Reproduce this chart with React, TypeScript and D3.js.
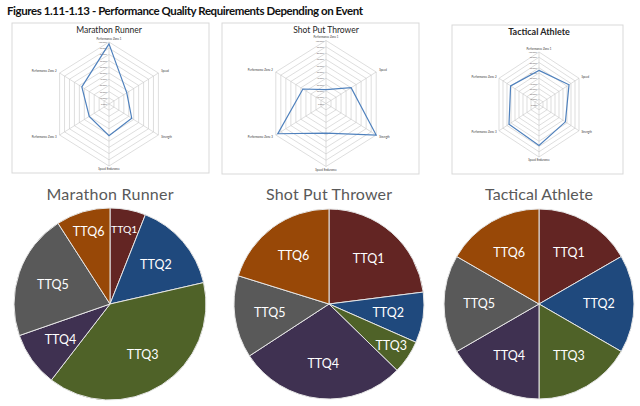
import React from 'react';
import * as d3 from 'd3';

// pie data (share of training time per quality)
const ttqLabels = ['TTQ1', 'TTQ2', 'TTQ3', 'TTQ4', 'TTQ5', 'TTQ6'];
const ttqColors = ['#632523', '#1F497D', '#4F6228', '#3F3151', '#595959', '#984807'];
const marathonPie = [6, 15.4, 39, 9.2, 21.2, 9.1];
const shotPutPie = [23, 8.6, 5.7, 28.5, 14, 20.2];
const tacticalPie = [1, 1, 1, 1, 1, 1];

// radar data (0..1)
const radarAxes = ['Performance Zone 1', 'Speed', 'Strength', 'Speed Endurance', 'Performance Zone 3', 'Performance Zone 2'];
const marathonRadar = [0.97, 0.36, 0.46, 0.51, 0.4, 0.55];
const shotPutRadar = [0.22, 0.5, 1.0, 0.47, 0.96, 0.46];
const tacticalRadar = [0.65, 0.75, 0.66, 0.78, 0.75, 0.71];
const radarTicks = ['0.00%', '10.00%', '20.00%', '30.00%', '40.00%', '50.00%', '60.00%', '70.00%', '80.00%', '90.00%', '100.00%'];

const figureTitle = 'Figures 1.11-1.13 - Performance Quality Requirements Depending on Event';
const eventNames = ['Marathon Runner', 'Shot Put Thrower', 'Tactical Athlete'];

const FONT = 'Lato, "Open Sans", sans-serif';

interface RadarProps {
  title: string;
  values: number[];
  box: { x: number; y: number; w: number; h: number };
  cx: number;
  cy: number;
  r: number;
  sx: number;
  bold?: boolean;
}

const Radar: React.FC<RadarProps> = ({ title, values, box, cx, cy, r, sx, bold }) => {
  const rScale = d3.scaleLinear().domain([0, 1]).range([0, r]);
  const angle = (i: number) => (i * 2 * Math.PI) / radarAxes.length;
  const pt = (v: number, i: number): [number, number] => [
    cx + rScale(v) * Math.sin(angle(i)) * sx,
    cy - rScale(v) * Math.cos(angle(i)),
  ];
  const closed = d3.line<[number, number]>().curve(d3.curveLinearClosed);
  const levels = radarTicks.map((_, k) => k / (radarTicks.length - 1));

  return (
    <g>
      <rect x={box.x} y={box.y} width={box.w} height={box.h} fill="#fff" stroke="#d9d9d9" strokeWidth={1} />
      <text x={cx} y={box.y + 10} textAnchor="middle" fontFamily={FONT} fontSize={bold ? 9 : 8.5} fontWeight={bold ? 700 : 400} fill="#262626">
        {title}
      </text>
      {levels.slice(1).map((lv, k) => (
        <path key={k} d={closed(radarAxes.map((_, i) => pt(lv, i))) || ''} fill="none" stroke="#c8c8c8" strokeWidth={0.6} />
      ))}
      {radarAxes.map((_, i) => {
        const [x, y] = pt(1, i);
        return <line key={i} x1={cx} y1={cy} x2={x} y2={y} stroke="#c8c8c8" strokeWidth={0.6} />;
      })}
      {radarTicks.map((t, k) => (
        <text key={t} x={cx - 2} y={cy - rScale(levels[k]) + 1} textAnchor="end" fontFamily={FONT} fontSize={2.2} fill="#666">
          {t}
        </text>
      ))}
      {radarAxes.map((a, i) => {
        const c = Math.cos(angle(i));
        const [x, y] = pt(Math.abs(c) > 0.9 ? 1.03 : 1.06, i);
        const s = Math.sin(angle(i));
        const anchor = Math.abs(s) < 0.1 ? 'middle' : s > 0 ? 'start' : 'end';
        const dy = c > 0.9 ? -0.5 : c < -0.9 ? 2.5 : 1;
        return (
          <text key={a} x={x} y={y + dy} textAnchor={anchor} fontFamily={FONT} fontSize={2.8} fill="#333">
            {a}
          </text>
        );
      })}
      <path d={closed(values.map((v, i) => pt(v, i))) || ''} fill="none" stroke="#4F81BD" strokeWidth={1.2} />
    </g>
  );
};

interface PieProps {
  title: string;
  values: number[];
  cx: number;
  cy: number;
  r: number;
  titleWidth: number;
}

const LABEL_FS = 12.5;

const Pie: React.FC<PieProps> = ({ title, values, cx, cy, r, titleWidth }) => {
  const arcs = d3.pie<number>().sort(null).value(d => d)(values);
  const arc = d3.arc<d3.PieArcDatum<number>>().innerRadius(0).outerRadius(r);
  return (
    <g>
      <text x={cx} y={200} textAnchor="middle" fontFamily={FONT} fontSize={16} fill="#595959" textLength={titleWidth}>
        {title}
      </text>
      <g transform={`translate(${cx},${cy})`}>
        {arcs.map((a, i) => (
          <path key={i} d={arc(a) || ''} fill={ttqColors[i]} stroke="#e6e6e6" strokeWidth={1} />
        ))}
        {arcs.map((a, i) => {
          // best-fit style: push label outward when the slice is too narrow for it
          const span = a.endAngle - a.startAngle;
          const mid = (a.startAngle + a.endAngle) / 2;
          const need = (32 * Math.abs(Math.cos(mid)) + 10 * Math.abs(Math.sin(mid))) * 1.3;
          const fitR = need / (2 * Math.sin(span / 2));
          const lr = Math.min(0.79 * r, Math.max(0.63 * r, fitR));
          const ratio = fitR / (0.79 * r);
          const fs = LABEL_FS * Math.min(1, 1.27 / ratio);
          const lab = d3.arc<d3.PieArcDatum<number>>().innerRadius(lr).outerRadius(lr);
          const [x, y] = lab.centroid(a);
          return (
            <text key={i} x={x} y={y} dy="0.35em" textAnchor="middle" fontFamily={FONT} fontSize={fs} fill="#fff">
              {ttqLabels[i]}
            </text>
          );
        })}
      </g>
    </g>
  );
};

const App: React.FC = () => {
  return (
    <svg width={640} height={406} style={{ position: 'absolute', left: 0, top: 0, background: '#fff' }}>
      <text x={7} y={15} fontFamily={FONT} fontSize={11.5} fontWeight={700} fill="#111" textLength={356}>
        {figureTitle}
      </text>

      <Radar title={eventNames[0]} values={marathonRadar} box={{ x: 12, y: 23, w: 197, h: 150 }} cx={109} cy={104} r={62} sx={0.92} />
      <Radar title={eventNames[1]} values={shotPutRadar} box={{ x: 222, y: 23, w: 197, h: 151 }} cx={326} cy={103.5} r={63} sx={0.92} />
      <Radar title={eventNames[2]} values={tacticalRadar} box={{ x: 452, y: 25, w: 171, h: 149 }} cx={539} cy={104.5} r={52.5} sx={0.88} bold />

      <Pie title={eventNames[0]} values={marathonPie} cx={110} cy={304} r={96} titleWidth={127} />
      <Pie title={eventNames[1]} values={shotPutPie} cx={329} cy={304} r={95} titleWidth={126} />
      <Pie title={eventNames[2]} values={tacticalPie} cx={539} cy={304} r={95} titleWidth={108} />
    </svg>
  );
};

export default App;
